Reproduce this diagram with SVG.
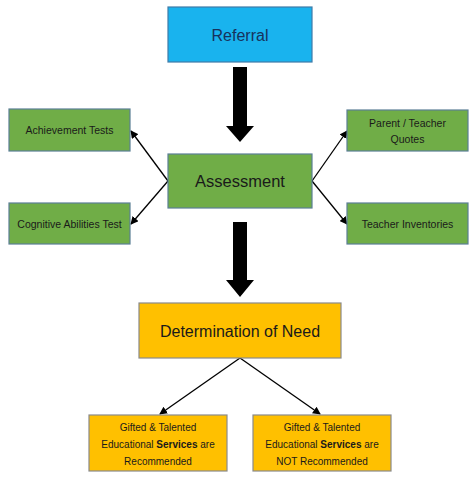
<svg xmlns="http://www.w3.org/2000/svg" width="474" height="477" viewBox="0 0 474 477">
<defs>
<marker id="ah" markerWidth="8" markerHeight="8" refX="7" refY="4" orient="auto" markerUnits="userSpaceOnUse">
<path d="M0,0 L8,4 L0,8 Z" fill="#000"/>
</marker>
<style>
.t{font-family:"Liberation Sans","Noto Sans",sans-serif;fill:#1a1a1a;text-anchor:middle;dominant-baseline:central}
.s{font-size:10.5px}
.b{font-size:10px}
.blue{fill:#19B3EE;stroke:#3E7BA8;stroke-width:1.2}
.green{fill:#70AD47;stroke:#5B7F95;stroke-width:1.2}
.gold{fill:#FFC000;stroke:#8A8A8A;stroke-width:1.2}
.ln{stroke:#000;stroke-width:1.3;fill:none;marker-end:url(#ah)}
</style>
</defs>
<rect width="474" height="477" fill="#fff"/>
<g id="connectors">
<path d="M233,67 H247 V126 H254 L240,142 L226,126 H233 Z" fill="#000"/>
<path d="M233,222 H247 V280 H254 L240,297 L226,280 H233 Z" fill="#000"/>
<line class="ln" x1="168" y1="181" x2="131" y2="131"/>
<line class="ln" x1="168" y1="181" x2="131" y2="224"/>
<line class="ln" x1="312" y1="181" x2="347" y2="131"/>
<line class="ln" x1="312" y1="181" x2="347" y2="224"/>
<line class="ln" x1="240" y1="358" x2="160" y2="414"/>
<line class="ln" x1="240" y1="358" x2="320" y2="414"/>
</g>
<g id="referral">
<rect class="blue" x="168" y="7" width="144" height="55"/>
<text class="t" x="240" y="35" style="font-size:16px;fill:#17325C">Referral</text>
</g>
<g id="assessment">
<rect class="green" x="168" y="154" width="144" height="54"/>
<text class="t" x="240" y="181" style="font-size:16.5px">Assessment</text>
</g>
<g id="achievement">
<rect class="green" x="9" y="109" width="121" height="42"/>
<text class="t s" x="69.5" y="130">Achievement Tests</text>
</g>
<g id="cognitive">
<rect class="green" x="9" y="203" width="121" height="41"/>
<text class="t s" x="69.5" y="224">Cognitive Abilities Test</text>
</g>
<g id="parent">
<rect class="green" x="347" y="110" width="121" height="41"/>
<text class="t s" x="407.5" y="123">Parent / Teacher</text>
<text class="t s" x="407.5" y="139">Quotes</text>
</g>
<g id="inventories">
<rect class="green" x="347" y="203" width="121" height="41"/>
<text class="t s" x="407.5" y="224">Teacher Inventories</text>
</g>
<g id="determination">
<rect class="gold" x="139" y="303" width="202" height="55"/>
<text class="t" x="240" y="331" style="font-size:16px">Determination of Need</text>
</g>
<g id="recommended">
<rect class="gold" x="89" y="415" width="138" height="56"/>
<text class="t b" x="158" y="427">Gifted &amp; Talented</text>
<text class="t b" x="158" y="444">Educational <tspan font-weight="bold">Services</tspan> are</text>
<text class="t b" x="158" y="461">Recommended</text>
</g>
<g id="not-recommended">
<rect class="gold" x="253" y="415" width="138" height="56"/>
<text class="t b" x="322" y="427">Gifted &amp; Talented</text>
<text class="t b" x="322" y="444">Educational <tspan font-weight="bold">Services</tspan> are</text>
<text class="t b" x="322" y="461">NOT Recommended</text>
</g>
</svg>
